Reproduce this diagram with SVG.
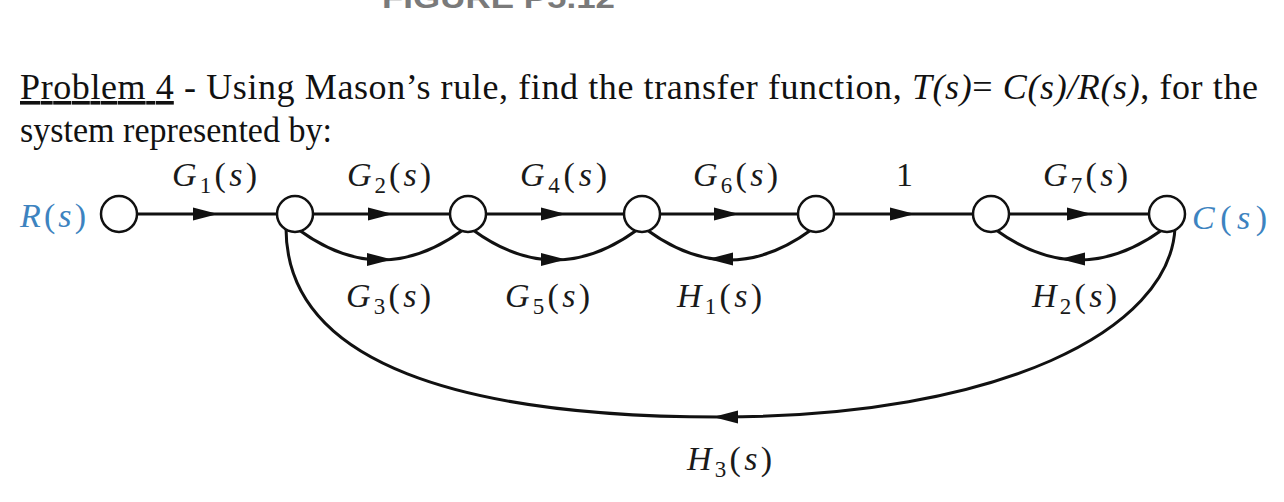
<svg xmlns="http://www.w3.org/2000/svg" xmlns:xlink="http://www.w3.org/1999/xlink" width="1284" height="502" viewBox="0 0 1284 502">
<style>
.hdr{font-family:"Liberation Sans",Arial,sans-serif;font-weight:bold;font-size:30px;fill:#7a7a7a}
.title{font-family:"Liberation Serif","Times New Roman",serif;font-size:36px;fill:#111}
.lbl{font-family:"Liberation Serif","Times New Roman",serif;font-size:34px;fill:#1a1a1a}
.blue{fill:#3d83c0}
.it{font-style:italic}
.sub{font-size:23px}
.edge{fill:none;stroke:#111;stroke-width:3}
.node{fill:#fff;stroke:#111;stroke-width:2.5}
.ah{fill:#111}
</style>
<defs>
<path id="ahR" d="M0 0 L-25 -6.5 L-25 6.5 Z"/>
<path id="ahL" d="M0 0 L25 -6.5 L25 6.5 Z"/>
</defs>
<rect width="1284" height="502" fill="#fff"/>
<text class="hdr" x="382" y="8" textLength="233" lengthAdjust="spacingAndGlyphs">FIGURE P5.12</text>
<text class="title" x="20" y="99" textLength="1238" lengthAdjust="spacing"><tspan text-decoration="underline">Problem 4</tspan> - Using Mason’s rule, find the transfer function, <tspan class="it">T(s)</tspan>= <tspan class="it">C(s)/R(s)</tspan>, for the</text>
<text class="title" x="20" y="142" textLength="312" lengthAdjust="spacingAndGlyphs">system represented by:</text>

<g id="connectors">
<g id="e-g1"><line class="edge" x1="137" y1="214" x2="277" y2="214"/><use class="ah" href="#ahR" x="218" y="214"/></g>
<g id="e-g2"><line class="edge" x1="313" y1="214" x2="450" y2="214"/><use class="ah" href="#ahR" x="393" y="214"/></g>
<g id="e-g4"><line class="edge" x1="486" y1="214" x2="624" y2="214"/><use class="ah" href="#ahR" x="566" y="214"/></g>
<g id="e-g6"><line class="edge" x1="660" y1="214" x2="798" y2="214"/><use class="ah" href="#ahR" x="739" y="214"/></g>
<g id="e-1"><line class="edge" x1="834" y1="214" x2="973" y2="214"/><use class="ah" href="#ahR" x="915" y="214"/></g>
<g id="e-g7"><line class="edge" x1="1009" y1="214" x2="1149" y2="214"/><use class="ah" href="#ahR" x="1092" y="214"/></g>
<g id="e-g3"><path class="edge" d="M 299 230 Q 381 290 463 230"/><use class="ah" href="#ahR" x="392" y="259.5"/></g>
<g id="e-g5"><path class="edge" d="M 473 230 Q 555 290 637 230"/><use class="ah" href="#ahR" x="566" y="259.5"/></g>
<g id="e-h1"><path class="edge" d="M 811 230 Q 729 290 647 230"/><use class="ah" href="#ahL" x="708" y="259"/></g>
<g id="e-h2"><path class="edge" d="M 1162 230 Q 1079 290 996 230"/><use class="ah" href="#ahL" x="1060" y="259"/></g>
<g id="e-h3"><path class="edge" d="M 286 228 C 286 365 465 417 720 417 C 1000 417 1170 330 1175 228"/><use class="ah" href="#ahL" x="713" y="417"/></g>
</g>

<g id="n-r"><circle class="node" cx="119" cy="214" r="18"/><text class="lbl blue" x="20" y="227" textLength="66" lengthAdjust="spacing"><tspan class="it">R</tspan>(<tspan class="it">s</tspan>)</text></g>
<g id="n-2"><circle class="node" cx="295" cy="214" r="18"/></g>
<g id="n-3"><circle class="node" cx="468" cy="214" r="18"/></g>
<g id="n-4"><circle class="node" cx="642" cy="214" r="18"/></g>
<g id="n-5"><circle class="node" cx="816" cy="214" r="18"/></g>
<g id="n-6"><circle class="node" cx="991" cy="214" r="18"/></g>
<g id="n-c"><circle class="node" cx="1167" cy="214" r="18"/><text class="lbl blue" x="1192" y="229" textLength="75" lengthAdjust="spacing"><tspan class="it">C</tspan>(<tspan class="it">s</tspan>)</text></g>

<g id="labels">
<text class="lbl" x="172" y="186" textLength="85" lengthAdjust="spacing"><tspan class="it">G</tspan><tspan class="sub" dy="7">1</tspan><tspan dy="-7">(</tspan><tspan class="it">s</tspan>)</text>
<text class="lbl" x="347" y="186" textLength="84" lengthAdjust="spacing"><tspan class="it">G</tspan><tspan class="sub" dy="7">2</tspan><tspan dy="-7">(</tspan><tspan class="it">s</tspan>)</text>
<text class="lbl" x="520" y="186" textLength="87" lengthAdjust="spacing"><tspan class="it">G</tspan><tspan class="sub" dy="7">4</tspan><tspan dy="-7">(</tspan><tspan class="it">s</tspan>)</text>
<text class="lbl" x="693" y="186" textLength="85" lengthAdjust="spacing"><tspan class="it">G</tspan><tspan class="sub" dy="7">6</tspan><tspan dy="-7">(</tspan><tspan class="it">s</tspan>)</text>
<text class="lbl" x="896" y="186">1</text>
<text class="lbl" x="1043" y="186" textLength="85" lengthAdjust="spacing"><tspan class="it">G</tspan><tspan class="sub" dy="7">7</tspan><tspan dy="-7">(</tspan><tspan class="it">s</tspan>)</text>
<text class="lbl" x="346" y="307" textLength="85" lengthAdjust="spacing"><tspan class="it">G</tspan><tspan class="sub" dy="7">3</tspan><tspan dy="-7">(</tspan><tspan class="it">s</tspan>)</text>
<text class="lbl" x="505" y="307" textLength="85" lengthAdjust="spacing"><tspan class="it">G</tspan><tspan class="sub" dy="7">5</tspan><tspan dy="-7">(</tspan><tspan class="it">s</tspan>)</text>
<text class="lbl" x="677" y="307" textLength="85" lengthAdjust="spacing"><tspan class="it">H</tspan><tspan class="sub" dy="7">1</tspan><tspan dy="-7">(</tspan><tspan class="it">s</tspan>)</text>
<text class="lbl" x="1032" y="307" textLength="85" lengthAdjust="spacing"><tspan class="it">H</tspan><tspan class="sub" dy="7">2</tspan><tspan dy="-7">(</tspan><tspan class="it">s</tspan>)</text>
<text class="lbl" x="687" y="470" textLength="85" lengthAdjust="spacing"><tspan class="it">H</tspan><tspan class="sub" dy="7">3</tspan><tspan dy="-7">(</tspan><tspan class="it">s</tspan>)</text>
</g>
</svg>
